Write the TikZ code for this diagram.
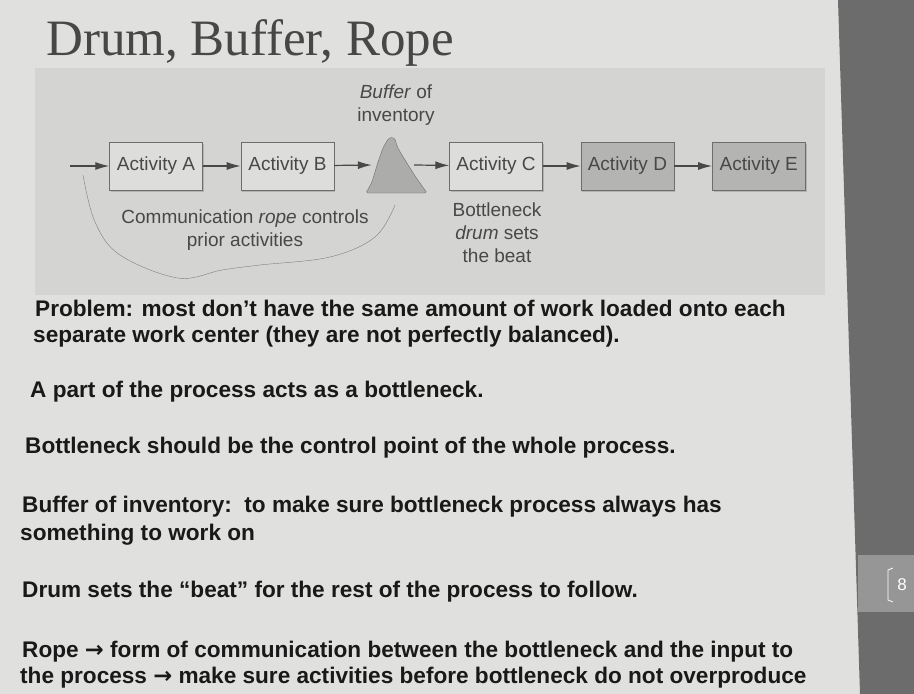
\documentclass[tikz,border=0pt]{standalone}
\usepackage{fontspec}
\setmainfont{Liberation Serif}
\setsansfont{Liberation Sans}
\newfontfamily\arrowfont{DejaVu Sans}
\usepackage{tikz}
\usetikzlibrary{arrows, arrows.meta, positioning, shadows}
\definecolor{slide}{RGB}{224,224,222}
\definecolor{panel}{RGB}{212,212,210}
\definecolor{boxlight}{RGB}{221,221,219}
\definecolor{boxdark}{RGB}{180,180,178}
\definecolor{pile}{RGB}{172,172,170}
\definecolor{ink}{RGB}{72,72,72}
\definecolor{bar}{RGB}{108,108,108}
\definecolor{pagebox}{RGB}{150,150,150}
\newcommand{\rarr}{{\arrowfont\bfseries →}}

\begin{document}
\begin{tikzpicture}[x=1pt, y=-1pt, node distance = 38pt, auto]
\tikzstyle{block} = [rectangle, draw=ink!80, fill=boxlight, text=ink,
    minimum width=93pt, minimum height=48pt, font=\sffamily\fontsize{19}{22}\selectfont,
    drop shadow={shadow xshift=1.5pt, shadow yshift=-1.5pt, opacity=.4}]
\tikzstyle{darkblock} = [block, fill=boxdark]
\tikzstyle{line} = [draw, ink, line width=1.2pt, -{Latex[length=14pt, width=8pt]}]
\tikzstyle{rope} = [draw=ink!70, thin]
\tikzstyle{note} = [text=ink, align=center, font=\sffamily\fontsize{19}{23}\selectfont]
\tikzstyle{body} = [anchor=base west, inner sep=0, text=black!90,
    font=\sffamily\bfseries\fontsize{22.6}{26}\selectfont]

    % slide
    \fill[slide] (0,0) rectangle (914,694);
    \fill[panel] (35,68) rectangle (825,295);
    \fill[bar] (838,0) -- (914,0) -- (914,694) -- (860,694) -- cycle;
    \fill[pagebox] (858,555) rectangle (914,612);
    \draw[white, thick] (893,568) -- (888,570) -- (888,600) -- (893,602);
    \node[text=white, font=\sffamily\fontsize{17}{17}\selectfont] (page) at (902,585) {8};

    \node[anchor=base west, inner sep=0, text=black!72, font=\fontsize{51}{51}\selectfont] (title) at (46,55) {Drum, Buffer, Rope};

    % Place nodes
    \coordinate (in) at (70,166);
    \node [block] (actA) at (156,166) {Activity A};
    \node [block, right=of actA] (actB) {Activity B};
    \node [minimum width=42pt, minimum height=54pt, inner sep=0] (buffer) at (393,165) {};
    \node [block] (actC) at (496,166) {Activity C};
    \node [darkblock, right=of actC] (actD) {Activity D};
    \node [darkblock, right=of actD] (actE) {Activity E};

    % buffer pile
    \draw[ink!80, fill=pile, rounded corners=1.5pt] ([shift={(-27,28)}]buffer.center) -- ([shift={(-21,17)}]buffer.center)
        -- ([shift={(-15,-3)}]buffer.center) -- ([shift={(-10,-17)}]buffer.center) -- ([shift={(-5,-26)}]buffer.center)
        -- ([shift={(-1,-28)}]buffer.center) -- ([shift={(2,-26)}]buffer.center) -- ([shift={(4,-19)}]buffer.center)
        -- ([shift={(6,-15)}]buffer.center) -- ([shift={(12,-5)}]buffer.center) -- ([shift={(22,11)}]buffer.center)
        -- ([shift={(34,28)}]buffer.center) -- cycle;

    % labels
    \node[note] (buflabel) at (396,105) {\textit{Buffer} of\\inventory};
    \node[note] (ropelabel) at (245,230) {Communication \textit{rope} controls\\prior activities};
    \node[note] (drumlabel) at (497,233) {Bottleneck\\\textit{drum} sets\\the beat};

%paths
    \path [line] (in) -- (actA);
    \path [line] (actA) -- (actB);
    \path [line] (actB) -- (buffer.west);
    \path [line] (buffer.east) -- (actC);
    \path [line] (actC) -- (actD);
    \path [line] (actD) -- (actE);
    \draw [rope] plot[smooth, tension=.6] coordinates {(83,175) (95,222) (120,255) (178,278) (222,270) (260,265) (330,257) (375,237) (395,205)};

    % text
    \node[body] (p1) at (35,316) {Problem: most don’t have the same amount of work loaded onto each};
    \node[body] (p2) at (33,342) {separate work center (they are not perfectly balanced).};
    \node[body] (p3) at (30,397) {A part of the process acts as a bottleneck.};
    \node[body] (p4) at (25,453) {Bottleneck should be the control point of the whole process.};
    \node[body] (p5) at (22,512) {Buffer of inventory:\ \ to make sure bottleneck process always has};
    \node[body] (p6) at (20,540) {something to work on};
    \node[body] (p7) at (22,597) {Drum sets the “beat” for the rest of the process to follow.};
    \node[body] (p8) at (22,657) {Rope \rarr{} form of communication between the bottleneck and the input to};
    \node[body] (p9) at (20,683) {the process \rarr{} make sure activities before bottleneck do not overproduce};
\end{tikzpicture}
\end{document}
